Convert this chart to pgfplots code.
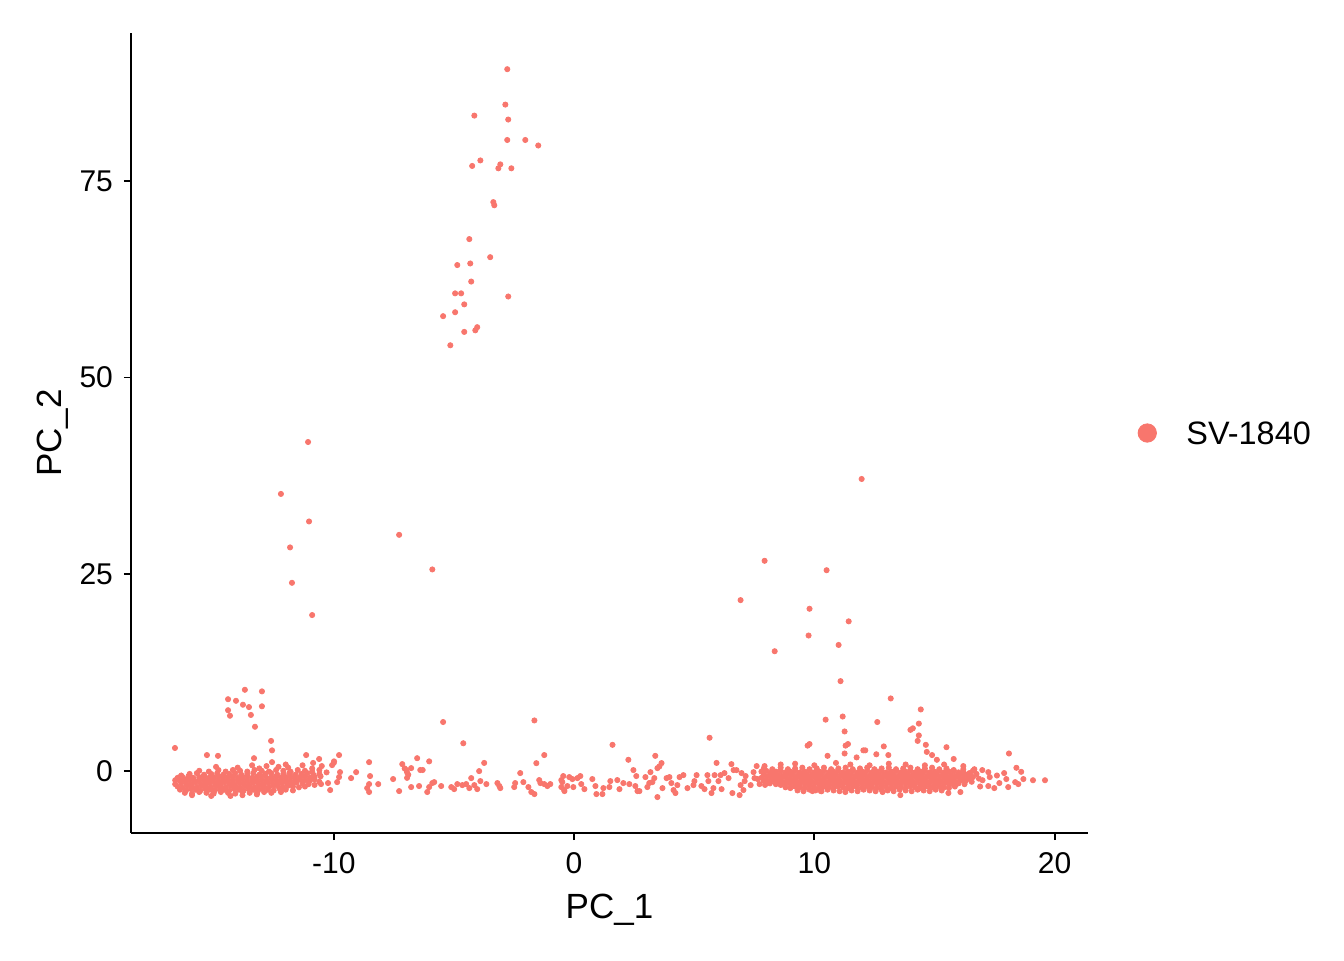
\documentclass[border=0pt]{standalone}
\usepackage{pgfplots}
\pgfplotsset{compat=1.18}
\usepackage{fontspec}
\setmainfont{Liberation Sans}
\definecolor{c1}{HTML}{F8766D}
\pgfplotsset{pt/.style={only marks, mark=*, mark size=1.3pt, color=c1, mark options={draw=none, fill=c1}}}
\begin{document}
\begin{tikzpicture}
\useasboundingbox (-65.5pt,-63.5pt) rectangle (606.5pt,416.5pt);
\begin{axis}[
  at={(0pt,0pt)}, anchor=south west,
  scale only axis, width=478.5pt, height=400pt,
  xmin=-18.44, xmax=21.39, ymin=-7.91, ymax=93.8,
  axis x line=bottom, axis y line=left,
  axis line style={-, line width=0.9pt, black},
  xtick={-10,0,10,20}, xticklabels={-10,0,10,20},
  ytick={0,25,50,75}, yticklabels={0,25,50,75},
  tick align=outside, major tick length=3.5pt,
  tick style={line width=0.9pt, black},
  tick label style={font=\fontsize{15}{18}\selectfont, text=black},
  xticklabel style={inner sep=0pt, anchor=north},
  yticklabel style={inner sep=0pt, anchor=east},
  xticklabel shift=6.15pt, yticklabel shift=5.35pt,
  xlabel={PC\_1}, ylabel={PC\_2},
  label style={font=\fontsize{17.5}{21}\selectfont, inner sep=0pt},
  xlabel style={at={(axis description cs:0.5,-0.1066)}, anchor=base},
  ylabel style={at={(axis description cs:-0.0724,0.5)}, anchor=base},
  legend style={at={(axis description cs:1.0515,0.5)}, anchor=west, draw=none, fill=none, inner sep=0pt, font=\fontsize{16.2}{19}\selectfont, nodes={inner sep=0pt, text depth=0pt}},
  legend image code/.code={\fill[c1] (0pt,0pt) circle (4.6pt); \path[draw=none, fill=none] (4.6pt,0pt) -- (19.6pt,0pt);},
]
% outliers
\addplot[pt] coordinates {
(-2.78,89.2) (-2.86,84.7) (-4.15,83.3) (-2.74,82.8) (-2.78,80.2) (-2.03,80.2) (-1.49,79.5) (-3.90,77.6) (-4.24,76.9) (-3.07,77.1) (-3.15,76.6) (-2.61,76.6) (-3.36,72.3) (-3.32,71.9) (-4.36,67.6) (-3.49,65.3) (-4.86,64.3) (-4.32,64.5) (-4.28,62.2) (-4.95,60.7) (-4.70,60.7) (-2.74,60.3) (-4.57,59.3) (-4.95,58.3) (-5.45,57.8) (-4.03,56.4) (-4.11,56.0) (-4.57,55.8) (-5.15,54.1)
(-11.07,41.8) (-12.20,35.2) (-11.03,31.7) (-11.82,28.4) (-11.74,23.9) (-10.90,19.8) (-7.28,30.0) (-5.90,25.6)
(11.97,37.1) (7.93,26.7) (10.51,25.5) (6.93,21.7) (9.80,20.6) (11.43,19.0) (9.76,17.2) (11.01,16.0) (8.35,15.2) (11.09,11.4) (13.18,9.2) (14.43,7.8)
(-13.70,10.3) (-12.99,10.1) (-14.40,9.1) (-14.07,8.9) (-13.78,8.4) (-13.53,8.1) (-12.99,8.2) (-14.40,7.7) (-14.32,7.0) (-13.45,7.1) (-13.28,5.6) (-12.61,3.8) (-16.61,2.9) (-12.57,2.6) (-15.28,2.0) (-14.82,1.9) (-13.32,1.6) (-12.57,1.1) (-11.15,2.0) (-10.61,1.5) (-10.86,1.0) (-9.99,1.2) (-9.78,2.0) (-5.45,6.2) (-4.61,3.5) (-1.65,6.4) (-1.24,2.0) (-8.53,1.1) (-6.53,1.6) (-6.03,1.2) (-3.74,1.0)
(10.47,6.5) (11.18,6.9) (12.62,6.2) (14.35,6.0) (11.26,5.0) (14.0,5.2) (14.1,5.4) (14.35,4.5) (14.3,3.8) (1.60,3.3) (5.64,4.2) (9.72,3.2) (9.8,3.4) (11.3,3.2) (11.4,3.4) (12.04,2.6) (12.12,2.6) (12.89,3.1) (15.5,3.0) (18.1,2.2) (14.64,3.3) (14.68,2.4) (11.26,2.2) (10.55,1.9) (11.76,1.7) (12.58,2.1) (13.08,2.0) (14.9,2.0) (15.1,1.4) (15.8,1.5) (2.26,1.4) (3.38,1.9) (5.93,1.0) (18.41,0.38) (18.61,-0.13) (19.1,-1.2) (19.6,-1.2)
};
\addlegendentry{SV-1840}
% sparse middle
\addplot[pt, forget plot] coordinates {
(-10.15,-2.45) (-10.24,-1.56) (-10.53,-1.69) (-9.86,-1.44) (-9.74,-0.17) (-9.78,-0.80) (-10.07,0.72) (-10.0,1.0) (-9.07,-0.17) (-9.28,-0.93) (-8.49,-0.67) (-8.53,-1.69) (-8.61,-2.2) (-8.53,-2.7) (-8.15,-1.69) (-7.53,-1.05) (-7.28,-2.58) (-7.15,0.85) (-7.05,0.3) (-6.98,0.1) (-6.95,-0.2) (-6.9,-0.5) (-6.95,-0.9) (-6.78,0.34) (-6.78,-2.07) (-6.45,-1.94) (-6.4,0.1) (-6.3,0.1) (-6.11,-2.7) (-6.03,-2.07) (-5.90,-1.56) (-5.82,-1.44) (-5.53,-1.94) (-5.11,-2.07) (-4.99,-2.33) (-4.86,-1.69) (-4.65,-1.82) (-4.49,-1.69) (-4.28,-0.93) (-4.36,-2.2) (-4.15,-1.82) (-4.03,-2.33) (-3.95,-0.04) (-3.90,-1.31) (-3.65,-1.69) (-3.19,-1.56) (-3.11,-1.94) (-3.07,-2.2) (-2.49,-2.07) (-2.45,-1.56) (-2.24,-0.29) (-2.11,-1.44) (-1.90,-2.07) (-1.78,-2.7) (-1.65,-2.96) (-1.57,0.97) (-1.45,-1.18) (-1.40,-1.56) (-1.24,-1.69) (-1.11,-1.94) (-0.99,-1.69) (-0.53,-1.18) (-0.53,-2.07) (-0.45,-0.67) (-0.41,-2.45) (-0.28,-1.94) (-0.2,-0.8) (-0.07,-1.05) (-0.03,-2.07) (0.14,-0.93)
(-0.49,-1.44) (-0.40,-2.58) (0.26,-0.67) (0.43,-2.33) (0.30,-1.69) (0.76,-1.05) (0.93,-2.96) (1.18,-2.96) (0.89,-1.94) (1.22,-2.2) (1.47,-2.07) (1.51,-1.31) (1.80,-1.18) (1.89,-2.33) (2.05,-1.56) (2.47,0.09) (2.59,-0.67) (2.30,-1.69) (2.55,-1.94) (2.64,-2.58) (2.72,-2.58) (2.97,-0.8) (3.18,-0.17) (3.05,-2.07) (3.13,-1.56) (3.26,-1.44) (3.34,-0.93) (3.47,0.34) (3.55,0.55) (3.64,0.98) (3.47,-3.34) (3.68,-2.2) (3.85,-0.93) (3.97,-0.8) (4.05,-1.56) (4.14,-2.45) (4.22,-2.83) (4.30,-1.82) (4.39,-0.8) (4.55,-0.55) (4.72,-2.2) (4.97,-1.82) (5.01,-1.31) (5.10,-0.55) (5.30,-1.94) (5.43,-2.33) (5.55,-0.55) (5.59,-1.31) (5.72,-2.83) (5.80,-2.2) (5.85,-0.55) (6.01,-1.31) (6.14,-2.33) (6.10,-0.55) (6.26,-0.29) (6.43,-0.93) (6.55,0.85) (6.59,-2.83) (6.64,0.09) (6.76,0.09) (6.89,-3.09) (6.93,-1.82) (6.97,-0.29) (7.05,-2.45) (7.10,-1.31) (7.14,-0.67) (7.35,-1.82) (7.47,-0.17) (7.51,-0.93) (7.60,0.6) (7.64,-1.05) (7.72,-1.69) (7.93,0.6)
(9.92,-2.58) (10.27,-2.58) (11.29,-2.7) (12.84,-2.7) (13.58,-3.09) (15.58,-2.83) (16.08,-2.7) (17.49,-2.2) (17.24,-1.94) (17.70,-1.56) (17.99,-1.05) (18.07,-2.07) (18.36,-1.44) (18.49,-1.69) (18.70,-1.05) (17.9,-0.29) (16.99,0.09) (16.66,0.2) (17.24,-0.17) (17.0,-1.2) (17.3,-0.8) (16.9,-2.0) (17.6,-0.6)
};
% left cluster
\addplot[pt, forget plot] coordinates {
(-14.9,0.5) (-14.0,0.4) (-13.4,0.7) (-12.8,0.6) (-12.3,0.5) (-11.9,0.4) (-11.3,0.7) (-10.9,0.3) (-10.5,0.6) (-13.1,0.3) (-12.0,0.8) (-16.4,-0.8) (-16.35,-0.6)
(-15.6,0.0) (-15.2,-0.1) (-14.8,0.1) (-14.5,-0.1) (-14.2,0.1) (-13.9,0.0) (-13.6,-0.1) (-13.3,0.1) (-13.0,0.0) (-12.7,-0.1) (-12.4,0.1) (-12.1,0.0) (-11.8,-0.1) (-11.5,0.1) (-11.2,0.0) (-10.9,-0.1) (-10.6,0.1) (-10.3,-0.2)
(-16.0,-0.4) (-15.7,-0.3) (-15.4,-0.5) (-15.1,-0.4) (-14.85,-0.3) (-14.6,-0.5) (-14.35,-0.4) (-14.1,-0.3) (-13.85,-0.5) (-13.6,-0.4) (-13.35,-0.3) (-13.1,-0.5) (-12.85,-0.4) (-12.6,-0.3) (-12.35,-0.5) (-12.1,-0.4) (-11.85,-0.3) (-11.6,-0.5) (-11.35,-0.4) (-11.1,-0.3) (-10.85,-0.5) (-10.6,-0.4)
(-16.5,-0.9) (-16.3,-0.8) (-16.05,-0.7) (-15.85,-0.9) (-15.6,-0.8) (-15.4,-0.7) (-15.2,-0.9) (-15.0,-0.8) (-14.8,-0.7) (-14.6,-0.9) (-14.4,-0.8) (-14.2,-0.7) (-14.0,-0.9) (-13.8,-0.8) (-13.6,-0.7) (-13.4,-0.9) (-13.2,-0.8) (-13.0,-0.7) (-12.8,-0.9) (-12.6,-0.8) (-12.4,-0.7) (-12.2,-0.9) (-12.0,-0.8) (-11.8,-0.7) (-11.6,-0.9) (-11.4,-0.8) (-11.2,-0.7) (-11.0,-0.9) (-10.8,-0.8) (-10.55,-0.7)
(-16.6,-1.2) (-16.4,-1.3) (-16.2,-1.1) (-16.0,-1.2) (-15.8,-1.3) (-15.6,-1.1) (-15.4,-1.2) (-15.2,-1.3) (-15.0,-1.1) (-14.8,-1.2) (-14.6,-1.3) (-14.4,-1.1) (-14.2,-1.2) (-14.0,-1.3) (-13.8,-1.1) (-13.6,-1.2) (-13.4,-1.3) (-13.2,-1.1) (-13.0,-1.2) (-12.8,-1.3) (-12.6,-1.1) (-12.4,-1.2) (-12.2,-1.3) (-12.0,-1.1) (-11.8,-1.2) (-11.6,-1.3) (-11.4,-1.1) (-11.2,-1.2) (-11.0,-1.3) (-10.8,-1.1) (-10.6,-1.4)
(-16.6,-1.7) (-16.35,-1.5) (-16.15,-1.6) (-15.95,-1.7) (-15.75,-1.5) (-15.55,-1.6) (-15.35,-1.7) (-15.15,-1.5) (-14.95,-1.6) (-14.75,-1.7) (-14.55,-1.5) (-14.35,-1.6) (-14.15,-1.7) (-13.95,-1.5) (-13.75,-1.6) (-13.55,-1.7) (-13.35,-1.5) (-13.15,-1.6) (-12.95,-1.7) (-12.75,-1.5) (-12.55,-1.6) (-12.35,-1.7) (-12.15,-1.5) (-11.95,-1.6) (-11.75,-1.7) (-11.55,-1.5) (-11.3,-1.6) (-11.05,-1.7) (-10.8,-1.8)
(-16.5,-2.0) (-16.3,-2.1) (-16.1,-1.9) (-15.9,-2.0) (-15.7,-2.1) (-15.5,-1.9) (-15.3,-2.0) (-15.1,-2.1) (-14.9,-1.9) (-14.7,-2.0) (-14.5,-2.1) (-14.3,-1.9) (-14.1,-2.0) (-13.9,-2.1) (-13.7,-1.9) (-13.5,-2.0) (-13.3,-2.1) (-13.1,-1.9) (-12.9,-2.0) (-12.7,-2.1) (-12.5,-1.9) (-12.3,-2.0) (-12.1,-2.1) (-11.9,-1.9) (-11.7,-2.0) (-11.45,-2.1) (-11.2,-2.0)
(-16.4,-2.4) (-16.15,-2.5) (-15.95,-2.3) (-15.75,-2.4) (-15.55,-2.5) (-15.35,-2.3) (-15.15,-2.4) (-14.95,-2.5) (-14.75,-2.3) (-14.55,-2.4) (-14.35,-2.5) (-14.15,-2.3) (-13.95,-2.4) (-13.75,-2.5) (-13.55,-2.3) (-13.35,-2.4) (-13.15,-2.5) (-12.95,-2.3) (-12.75,-2.4) (-12.5,-2.5) (-12.25,-2.3) (-12.0,-2.4) (-11.7,-2.5)
(-16.2,-2.8) (-15.9,-2.9) (-15.6,-2.7) (-15.3,-2.8) (-15.0,-2.9) (-14.7,-2.7) (-14.4,-2.8) (-14.1,-2.9) (-13.8,-2.7) (-13.5,-2.8) (-13.2,-2.9) (-12.9,-2.7) (-12.6,-2.8) (-12.2,-2.7)
(-15.9,-3.1) (-15.1,-3.2) (-14.3,-3.2) (-13.8,-3.1) (-13.2,-3.0)
};
% right cluster
\addplot[pt, forget plot] coordinates {
(8.6,0.8) (9.2,0.9) (10.0,0.7) (10.9,1.0) (11.5,0.8) (12.3,0.7) (13.1,0.9) (13.8,0.8) (14.6,0.7) (15.4,0.8) (16.2,0.6)
(7.9,0.3) (8.25,0.2) (8.6,0.4) (8.9,0.2) (9.2,0.3) (9.5,0.4) (9.8,0.2) (10.1,0.3) (10.4,0.4) (10.7,0.2) (11.0,0.3) (11.3,0.4) (11.6,0.2) (11.9,0.3) (12.2,0.4) (12.5,0.2) (12.8,0.3) (13.1,0.4) (13.4,0.2) (13.7,0.3) (14.0,0.4) (14.3,0.2) (14.6,0.3) (14.9,0.4) (15.2,0.2) (15.5,0.3) (15.8,0.1) (16.2,0.2) (16.6,0.0)
(7.8,-0.1) (8.0,0.0) (8.2,-0.2) (8.4,-0.1) (8.6,0.0) (8.8,-0.2) (9.0,-0.1) (9.2,0.0) (9.4,-0.2) (9.6,-0.1) (9.8,0.0) (10.0,-0.2) (10.2,-0.1) (10.4,0.0) (10.6,-0.2) (10.8,-0.1) (11.0,0.0) (11.2,-0.2) (11.4,-0.1) (11.6,0.0) (11.8,-0.2) (12.0,-0.1) (12.2,0.0) (12.4,-0.2) (12.6,-0.1) (12.8,0.0) (13.0,-0.2) (13.2,-0.1) (13.4,0.0) (13.6,-0.2) (13.8,-0.1) (14.0,0.0) (14.2,-0.2) (14.4,-0.1) (14.6,0.0) (14.8,-0.2) (15.0,-0.1) (15.2,0.0) (15.4,-0.2) (15.6,-0.1) (15.8,0.0) (16.0,-0.2) (16.2,-0.1) (16.45,-0.3)
(7.9,-0.5) (8.1,-0.6) (8.3,-0.4) (8.5,-0.5) (8.7,-0.6) (8.9,-0.4) (9.1,-0.5) (9.3,-0.6) (9.5,-0.4) (9.7,-0.5) (9.9,-0.6) (10.1,-0.4) (10.3,-0.5) (10.5,-0.6) (10.7,-0.4) (10.9,-0.5) (11.1,-0.6) (11.3,-0.4) (11.5,-0.5) (11.7,-0.6) (11.9,-0.4) (12.1,-0.5) (12.3,-0.6) (12.5,-0.4) (12.7,-0.5) (12.9,-0.6) (13.1,-0.4) (13.3,-0.5) (13.5,-0.6) (13.7,-0.4) (13.9,-0.5) (14.1,-0.6) (14.3,-0.4) (14.5,-0.5) (14.7,-0.6) (14.9,-0.4) (15.1,-0.5) (15.3,-0.6) (15.5,-0.4) (15.7,-0.5) (15.9,-0.6) (16.1,-0.4) (16.3,-0.5) (16.5,-0.6) (16.75,-0.4)
(7.8,-0.9) (8.0,-1.0) (8.2,-0.8) (8.4,-0.9) (8.6,-1.0) (8.8,-0.8) (9.0,-0.9) (9.2,-1.0) (9.4,-0.8) (9.6,-0.9) (9.8,-1.0) (10.0,-0.8) (10.2,-0.9) (10.4,-1.0) (10.6,-0.8) (10.8,-0.9) (11.0,-1.0) (11.2,-0.8) (11.4,-0.9) (11.6,-1.0) (11.8,-0.8) (12.0,-0.9) (12.2,-1.0) (12.4,-0.8) (12.6,-0.9) (12.8,-1.0) (13.0,-0.8) (13.2,-0.9) (13.4,-1.0) (13.6,-0.8) (13.8,-0.9) (14.0,-1.0) (14.2,-0.8) (14.4,-0.9) (14.6,-1.0) (14.8,-0.8) (15.0,-0.9) (15.2,-1.0) (15.4,-0.8) (15.6,-0.9) (15.8,-1.0) (16.0,-0.8) (16.2,-0.9) (16.4,-1.0) (16.6,-0.8) (16.85,-1.0)
(7.9,-1.3) (8.1,-1.4) (8.3,-1.2) (8.5,-1.3) (8.7,-1.4) (8.9,-1.2) (9.1,-1.3) (9.3,-1.4) (9.5,-1.2) (9.7,-1.3) (9.9,-1.4) (10.1,-1.2) (10.3,-1.3) (10.5,-1.4) (10.7,-1.2) (10.9,-1.3) (11.1,-1.4) (11.3,-1.2) (11.5,-1.3) (11.7,-1.4) (11.9,-1.2) (12.1,-1.3) (12.3,-1.4) (12.5,-1.2) (12.7,-1.3) (12.9,-1.4) (13.1,-1.2) (13.3,-1.3) (13.5,-1.4) (13.7,-1.2) (13.9,-1.3) (14.1,-1.4) (14.3,-1.2) (14.5,-1.3) (14.7,-1.4) (14.9,-1.2) (15.1,-1.3) (15.3,-1.4) (15.5,-1.2) (15.7,-1.3) (15.9,-1.4) (16.1,-1.2) (16.3,-1.3) (16.55,-1.4)
(7.95,-1.8) (8.15,-1.6) (8.4,-1.7) (8.6,-1.8) (8.8,-1.6) (9.0,-1.7) (9.2,-1.8) (9.4,-1.6) (9.6,-1.7) (9.8,-1.8) (10.0,-1.6) (10.2,-1.7) (10.4,-1.8) (10.6,-1.6) (10.8,-1.7) (11.0,-1.8) (11.2,-1.6) (11.4,-1.7) (11.6,-1.8) (11.8,-1.6) (12.0,-1.7) (12.2,-1.8) (12.4,-1.6) (12.6,-1.7) (12.8,-1.8) (13.0,-1.6) (13.2,-1.7) (13.4,-1.8) (13.6,-1.6) (13.8,-1.7) (14.0,-1.8) (14.2,-1.6) (14.4,-1.7) (14.6,-1.8) (14.8,-1.6) (15.0,-1.7) (15.2,-1.8) (15.4,-1.6) (15.6,-1.7) (15.8,-1.8) (16.0,-1.6) (16.25,-1.7)
(8.8,-2.1) (9.0,-2.2) (9.2,-2.0) (9.4,-2.1) (9.6,-2.2) (9.8,-2.0) (10.0,-2.1) (10.2,-2.2) (10.4,-2.0) (10.6,-2.1) (10.8,-2.2) (11.0,-2.0) (11.2,-2.1) (11.4,-2.2) (11.6,-2.0) (11.8,-2.1) (12.0,-2.2) (12.2,-2.0) (12.4,-2.1) (12.6,-2.2) (12.8,-2.0) (13.0,-2.1) (13.2,-2.2) (13.4,-2.0) (13.6,-2.1) (13.8,-2.2) (14.0,-2.0) (14.2,-2.1) (14.4,-2.2) (14.6,-2.0) (14.8,-2.1) (15.0,-2.2) (15.2,-2.0) (15.4,-2.1) (15.6,-2.2) (15.85,-2.0)
(9.3,-2.5) (9.55,-2.6) (9.8,-2.4) (10.05,-2.5) (10.3,-2.6) (10.55,-2.4) (10.8,-2.5) (11.05,-2.6) (11.3,-2.4) (11.55,-2.5) (11.8,-2.6) (12.05,-2.4) (12.3,-2.5) (12.55,-2.6) (12.8,-2.4) (13.05,-2.5) (13.3,-2.6) (13.55,-2.4) (13.8,-2.5) (14.05,-2.6) (14.3,-2.4) (14.55,-2.5) (14.8,-2.6) (15.05,-2.4) (15.3,-2.5)
};
\end{axis}
\end{tikzpicture}
\end{document}
